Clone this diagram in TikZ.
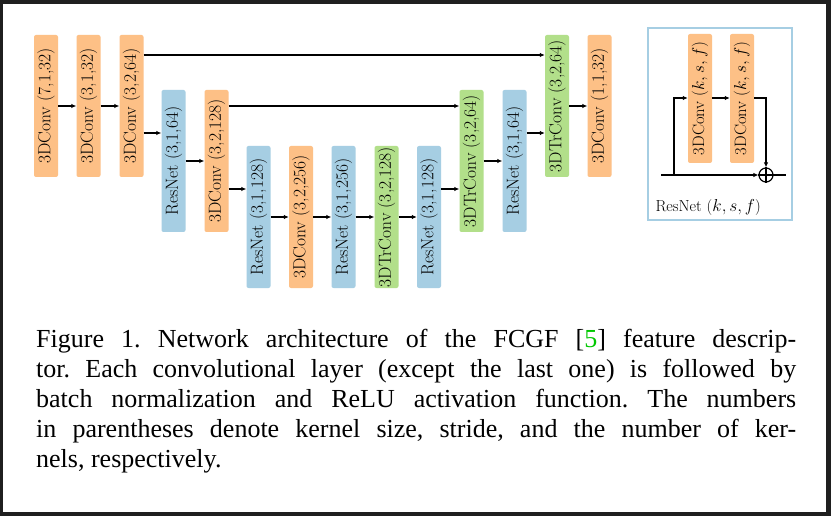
\documentclass[tikz,border=0pt]{standalone}
\usepackage{fontspec}
\newfontfamily\capfont{Liberation Serif}
\usetikzlibrary{calc}
\usetikzlibrary{arrows.meta}
\definecolor{convc}{RGB}{253,192,134}
\definecolor{resc}{RGB}{166,206,227}
\definecolor{trc}{RGB}{178,223,138}
\definecolor{refc}{RGB}{0,200,0}
\tikzset{
   blk/.style={fill=#1, draw=none, rounded corners=2pt,
      minimum width=24pt, inner sep=0pt,
      font=\fontsize{17.5}{20}\selectfont},
   tall/.style={blk=#1, minimum height=142pt},
   short/.style={blk=#1, minimum height=129pt},
   arr/.style={-{Latex[length=5pt,width=4.5pt]}, line width=1.2pt},
   ln/.style={line width=1.2pt},
    }
\newcommand{\vt}[1]{\rotatebox{90}{#1}}
\begin{document}
\frenchspacing
\begin{tikzpicture}[x=1pt,y=-1pt]
            \fill[black!88] (0,0) rectangle (831,516);
            \fill[white] (3,4) rectangle (826,512);
            \useasboundingbox (0,0) rectangle (831,516);
            % encoder
            \node[tall=convc] (c1) at (46,106) {\vt{3DConv (7,1,32)}};
            \node[tall=convc] (c2) at (88.5,106) {\vt{3DConv (3,1,32)}};
            \node[tall=convc] (c3) at (131.5,106) {\vt{3DConv (3,2,64)}};
            \node[tall=resc] (c4) at (173.5,161) {\vt{ResNet (3,1,64)}};
            \node[tall=convc] (c5) at (216.5,161) {\vt{3DConv (3,2,128)}};
            \node[tall=resc] (c6) at (258.5,217) {\vt{ResNet (3,1,128)}};
            \node[tall=convc] (c7) at (301,217) {\vt{3DConv (3,2,256)}};
            \node[tall=resc] (c8) at (343.5,217) {\vt{ResNet (3,1,256)}};
            % decoder
            \node[tall=trc] (c9) at (386.5,217) {\vt{3DTrConv (3,2,128)}};
            \node[tall=resc] (c10) at (429,217) {\vt{ResNet (3,1,128)}};
            \node[tall=trc] (c11) at (471.5,161) {\vt{3DTrConv (3,2,64)}};
            \node[tall=resc] (c12) at (514.5,161) {\vt{ResNet (3,1,64)}};
            \node[tall=trc] (c13) at (557,106) {\vt{3DTrConv (3,2,64)}};
            \node[tall=convc] (c14) at (599.5,106) {\vt{3DConv (1,1,32)}};

            \draw[arr](c1)--(c2);
            \draw[arr](c2)--(c3);
            \draw[arr](c3.east |- 0,133)--(c4.west |- 0,133);
            \draw[arr](c4)--(c5);
            \draw[arr](c5.east |- 0,189)--(c6.west |- 0,189);
            \draw[arr](c6)--(c7);
            \draw[arr](c7)--(c8);
            \draw[arr](c8)--(c9);
            \draw[arr](c9)--(c10);
            \draw[arr](c10.east |- 0,189)--(c11.west |- 0,189);
            \draw[arr](c11)--(c12);
            \draw[arr](c12.east |- 0,133)--(c13.west |- 0,133);
            \draw[arr](c13)--(c14);
            % skips
            \draw[arr](c3.east |- 0,55)--(c13.west |- 0,55);
            \draw[arr](c5.east |- 0,106)--(c11.west |- 0,106);

            % resnet block
            \draw[resc, line width=2pt] (648,28) rectangle (792,220);
            \node[short=convc, font=\fontsize{16.5}{19}\selectfont] (r1) at (700,98.5) {\vt{3DConv ($k,s,f$)}};
            \node[short=convc, font=\fontsize{16.5}{19}\selectfont] (r2) at (742,98.5) {\vt{3DConv ($k,s,f$)}};
            \node[circle, draw, line width=1.2pt, minimum size=14pt, inner sep=0pt] (sum) at (766,175) {};
            \draw[ln] (sum.north) -- (sum.south) (sum.west) -- (sum.east);
            \coordinate (rin) at (661,175);
            \coordinate (rout) at (786,175);
            \draw[arr](rin)--(sum);
            \draw[ln](sum)--(rout);
            \draw[arr](674,175) |- (r1.west |- 0,98);
            \draw[arr](r1.east |- 0,98)--(r2.west |- 0,98);
            \draw[arr](r2.east |- 0,98) -| (sum.north);
            \node[anchor=west, font=\fontsize{16}{18}\selectfont] (rlab) at (652,208) {ResNet ($k,s,f$)};

            % caption
            \node[anchor=north west, text width=760pt, align=justify, inner sep=0pt,
               font=\capfont\fontsize{26}{30}\selectfont] (cap) at (36,329)
               {Figure 1. Network architecture of the FCGF [\textcolor{refc}{5}] feature descrip-\linebreak
               tor. Each convolutional layer (except the last one) is followed by\linebreak
               batch normalization and ReLU activation function. The numbers\linebreak
               in parentheses denote kernel size, stride, and the number of ker-\linebreak
               nels, respectively.};
        \end{tikzpicture}
\end{document}
